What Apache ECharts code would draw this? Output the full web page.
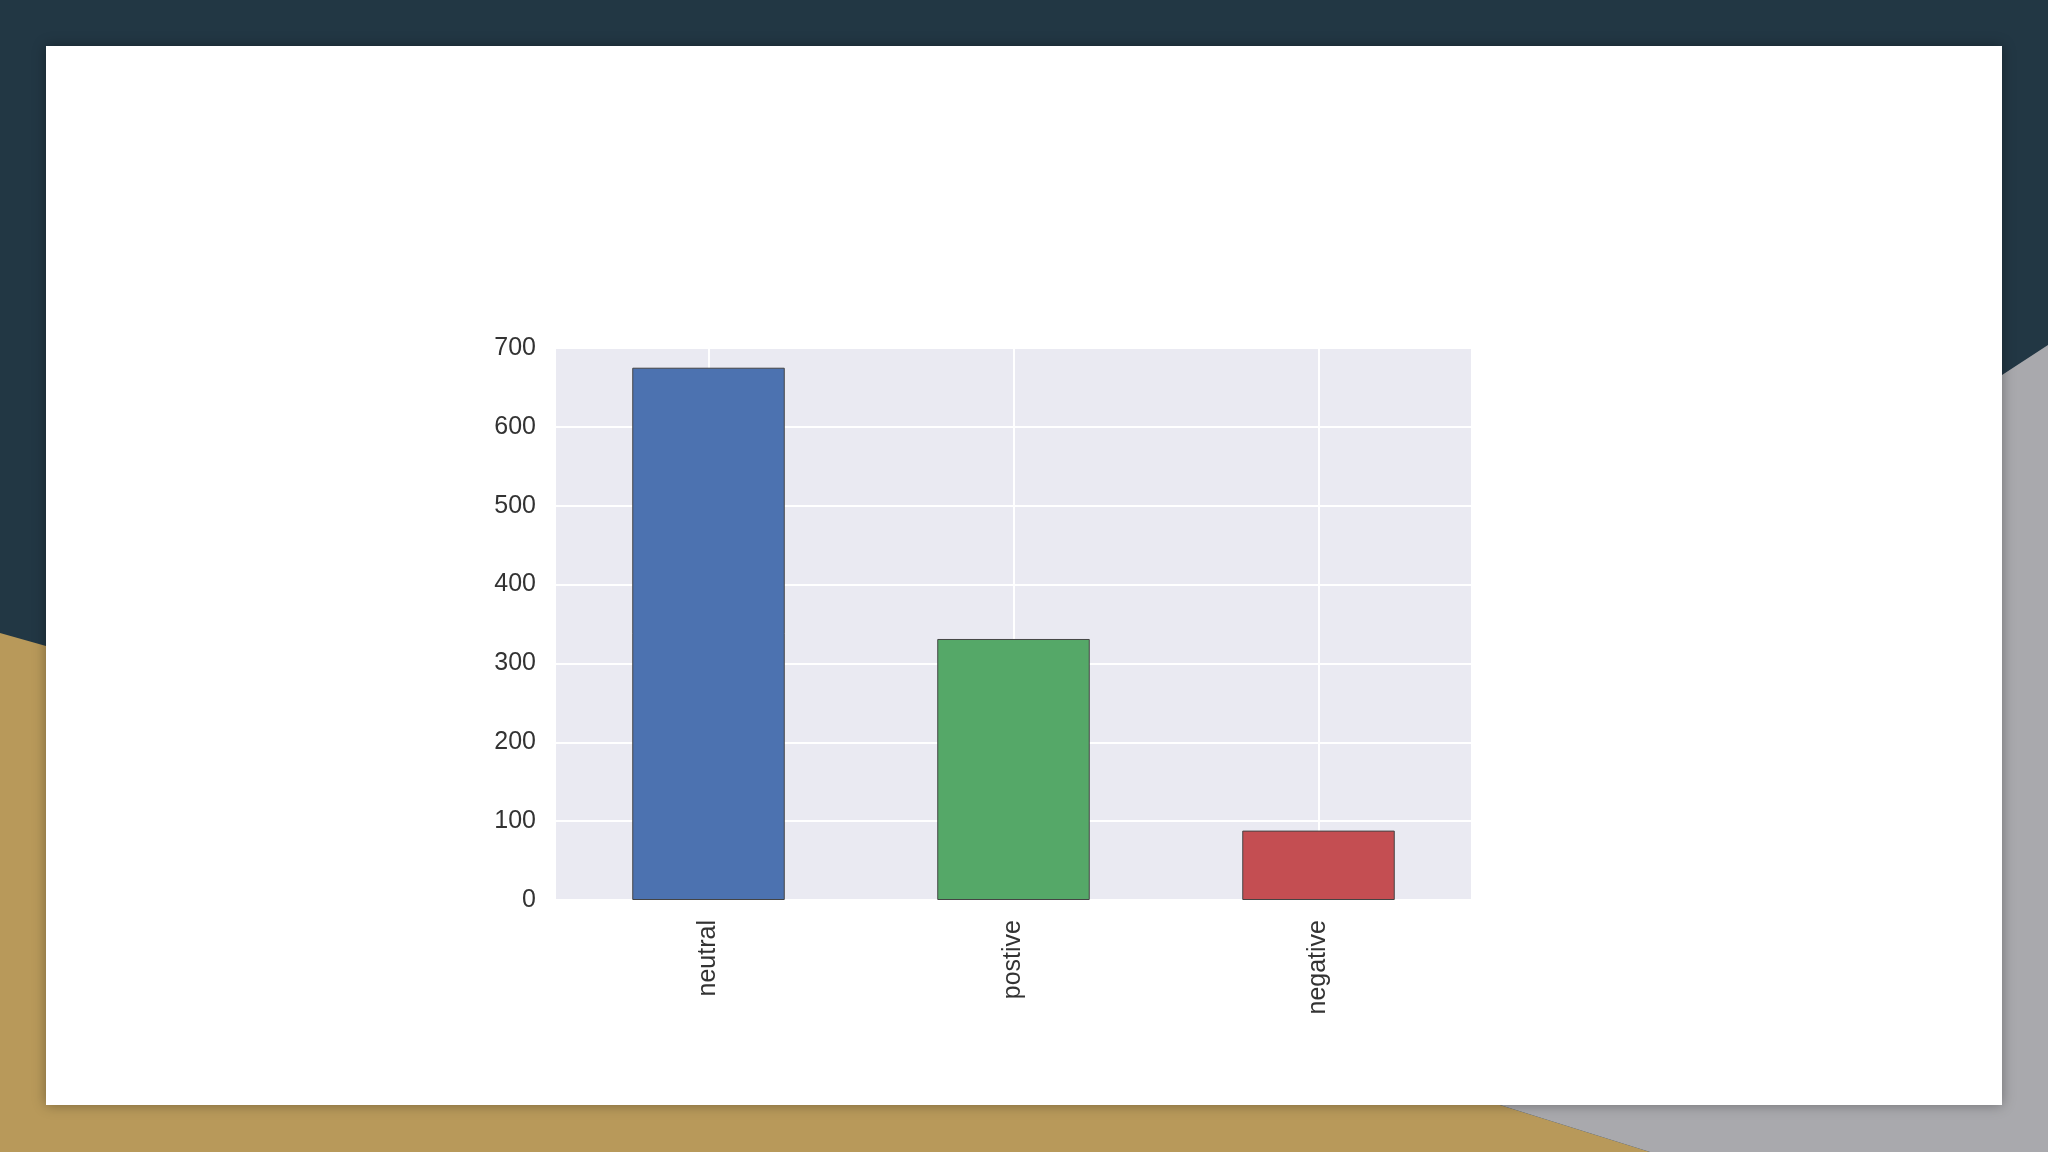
<!DOCTYPE html>
<html><head><meta charset="utf-8">
<script src="https://cdn.jsdelivr.net/npm/echarts@6/dist/echarts.min.js"></script>
<style>html,body{margin:0;padding:0;background:#223744}#c{width:2048px;height:1152px}</style>
</head><body><div id="c"></div>
<script>
const categories = ['neutral', 'postive', 'negative'];
const counts = [675, 331, 88];
const barColors = ['#4c72b0', '#55a868', '#c44e52'];
const yTicks = [0, 100, 200, 300, 400, 500, 600, 700];

const chart = echarts.init(document.getElementById('c'));
chart.setOption({
  backgroundColor: '#223744',
  graphic: [
    { type: 'polygon', silent: true, z: -10, shape: { points: [[0,633],[46,646],[46,1105],[1500,1105],[1650,1152],[0,1152]] }, style: { fill: '#b8995a' } },
    { type: 'polygon', silent: true, z: -10, shape: { points: [[2002,375],[2048,345],[2048,1152],[1650,1152],[1500,1105],[2002,1105]] }, style: { fill: '#a9a9ad' } },
    { type: 'rect', silent: true, z: -9, shape: { x: 46, y: 46, width: 1956, height: 1059 }, style: { fill: '#ffffff', shadowBlur: 12, shadowColor: 'rgba(0,0,0,0.35)' } }
  ],
  grid: { left: 556, top: 348, width: 915, height: 552, backgroundColor: '#eaeaf2', show: true, borderWidth: 0 },
  xAxis: {
    type: 'category', data: categories,
    axisLine: { show: false }, axisTick: { show: false },
    splitLine: { show: false },
    axisLabel: { rotate: 90, fontSize: 25, color: '#333', fontFamily: 'Liberation Sans', margin: 20, interval: 0 }
  },
  yAxis: {
    type: 'value', min: 0, max: 700, interval: 100,
    axisLine: { show: false }, axisTick: { show: false },
    splitLine: { lineStyle: { color: '#ffffff', width: 2 } },
    axisLabel: { fontSize: 25, color: '#333', fontFamily: 'Liberation Sans', margin: 20 }
  },
  series: [{
    type: 'line', z: 0, data: [], symbol: 'none',
    markLine: { z: 0, silent: true, symbol: 'none', label: { show: false },
      lineStyle: { color: '#ffffff', width: 2, type: 'solid' },
      data: categories.map(c => ({ xAxis: c })) }
  }, {
    type: 'bar', z: 10, barWidth: '50%',
    data: counts.map((v, i) => ({ value: v, itemStyle: { color: barColors[i] } })),
    itemStyle: { borderColor: '#444', borderWidth: 1 }
  }]
});
</script></body></html>
